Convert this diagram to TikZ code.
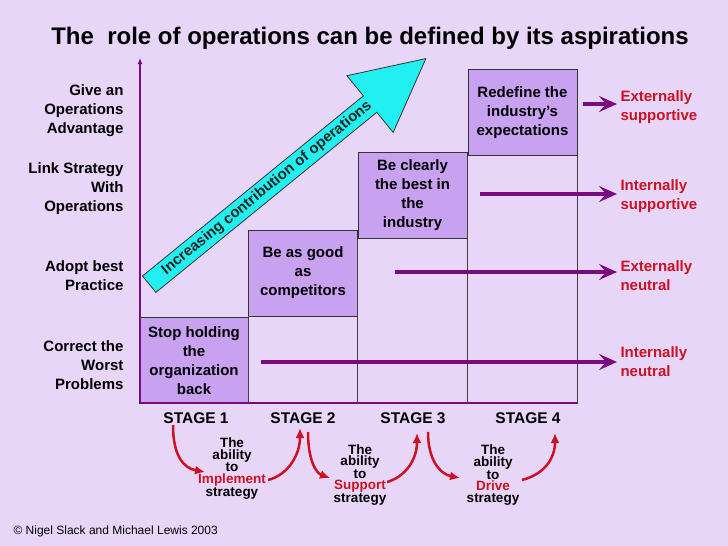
\documentclass[tikz,border=0pt]{standalone}
\usepackage{fontspec}
\setmainfont{Liberation Sans}
\usetikzlibrary{arrows.meta}
\definecolor{bgcol}{HTML}{E8D6F8}
\definecolor{boxcol}{HTML}{C8A2F0}
\definecolor{axiscol}{HTML}{7A0A80}
\definecolor{redtxt}{HTML}{CC1122}
\definecolor{cyancol}{HTML}{22F0F0}
\begin{document}
\begin{tikzpicture}[x=1pt, y=-1pt,
  stagebox/.style={draw=black!80, fill=boxcol, line width=0.8pt, minimum width=109pt, minimum height=86pt, inner sep=0pt, align=center, font=\fontsize{15}{19}\selectfont\bfseries},
  level/.style={anchor=east, align=right, font=\fontsize{15}{19}\selectfont\bfseries},
  role/.style={anchor=west, align=left, text=redtxt, font=\fontsize{15}{19}\selectfont\bfseries},
  stage/.style={font=\fontsize{15.5}{18}\selectfont\bfseries},
  ability/.style={align=center, font=\fontsize{13.5}{11.5}\selectfont\bfseries},
  column/.style={draw=black!75, line width=0.8pt},
  flow/.style={draw=axiscol, line width=4.5pt, -{Stealth[length=18pt,width=16pt,inset=7pt]}},
  turn/.style={draw=redtxt, line width=2.5pt, -{Latex[length=10pt,width=9pt]}}
]
\path[use as bounding box, fill=bgcol] (0,0) rectangle (728,546);

\node[font=\fontsize{24}{27}\selectfont\bfseries] (title) at (370,38) {The\ \ role of operations can be defined by its aspirations};

\coordinate (o) at (140,403);
\coordinate (top) at (140,58);
\coordinate (end) at (578,403);

\node[stagebox] (s1) at (194,360.5) {Stop holding\\the\\organization\\back};
\node[stagebox] (s2) at (303,273) {Be as good\\as\\competitors};
\node[stagebox] (s3) at (412.5,195.5) {Be clearly\\the best in\\the\\industry};
\node[stagebox] (s4) at (522.5,112.5) {Redefine the\\industry’s\\expectations};

\draw[column] (s2.south west) -- (s2.south west |- o);
\draw[column] (s3.south west) -- (s3.south west |- o);
\draw[column] (s4.south west) -- (s4.south west |- o);
\draw[column] (s4.south east) -- (s4.south east |- o);
\draw[draw=axiscol, line width=1.5pt] (o) -- (end);
\draw[draw=axiscol, line width=2.5pt, -{Latex[length=6pt,width=5pt]}] (o) -- (top);

\node[level] (l1) at (127,111) {Give an\\Operations\\Advantage};
\node[level] (l2) at (127,189) {Link Strategy\\With\\Operations};
\node[level] (l3) at (127,275.5) {Adopt best\\Practice};
\node[level] (l4) at (127,365) {Correct the\\Worst\\Problems};

\node[role] (exsup) at (617,107.5) {Externally\\supportive};
\node[role] (insup) at (617,196) {Internally\\supportive};
\node[role] (exneu) at (617,275.5) {Externally\\neutral};
\node[role] (inneu) at (617,362) {Internally\\neutral};

\coordinate (f1) at (583,104);
\coordinate (f2) at (480,194);
\coordinate (f3) at (395,272);
\coordinate (f4) at (261,362);
\draw[flow] (f1) -- (f1 -| exsup.west);
\draw[flow] (f2) -- (f2 -| insup.west);
\draw[flow] (f3) -- (f3 -| exneu.west);
\draw[flow] (f4) -- (f4 -| inneu.west);

\begin{scope}[shift={(149.2,284.2)}, rotate=39.2]
  \filldraw[fill=cyancol, draw=black!80, line width=0.8pt]
    (0,-10.6) -- (285,-10.6) -- (285,-36.6) -- (357,0) -- (285,36.6) -- (285,10.6) -- (0,10.6) -- cycle;
  \node[rotate=39.2, text=black!85, font=\fontsize{15}{17}\selectfont\bfseries] (growth) at (152,0) {Increasing contribution of operations};
\end{scope}

\node[stage] (st1) at (196,418) {STAGE 1};
\node[stage] (st2) at (303,418) {STAGE 2};
\node[stage] (st3) at (413,418) {STAGE 3};
\node[stage] (st4) at (528,418) {STAGE 4};

\node[ability] (ab1) at (232,468.5) {The\\ability\\to\\\textcolor{redtxt}{Implement}\\strategy};
\node[ability] (ab2) at (360,475) {The\\ability\\to\\\textcolor{redtxt}{Support}\\strategy};
\node[ability] (ab3) at (493,475) {The\\ability\\to\\\textcolor{redtxt}{Drive}\\strategy};

\coordinate (a1) at (173,425);
\coordinate (b1) at (205,472);
\coordinate (c1) at (268,480);
\coordinate (d1) at (300,428);
\coordinate (a2) at (308,432);
\coordinate (b2) at (330,478);
\coordinate (c2) at (387,482);
\coordinate (d2) at (417,433);
\coordinate (a3) at (428,432);
\coordinate (b3) at (460,478);
\coordinate (c3) at (522,480);
\coordinate (d3) at (555,433);
\draw[turn] (a1) .. controls (173,455) and (183,468) .. (b1);
\draw[turn] (c1) .. controls (288,475) and (300,455) .. (d1);
\draw[turn] (a2) .. controls (308,460) and (316,473) .. (b2);
\draw[turn] (c2) .. controls (405,477) and (417,460) .. (d2);
\draw[turn] (a3) .. controls (428,460) and (440,474) .. (b3);
\draw[turn] (c3) .. controls (545,474) and (555,458) .. (d3);

\node[anchor=west, font=\fontsize{12}{14}\selectfont] (copy) at (10,531) {© Nigel Slack and Michael Lewis 2003};
\end{tikzpicture}
\end{document}
